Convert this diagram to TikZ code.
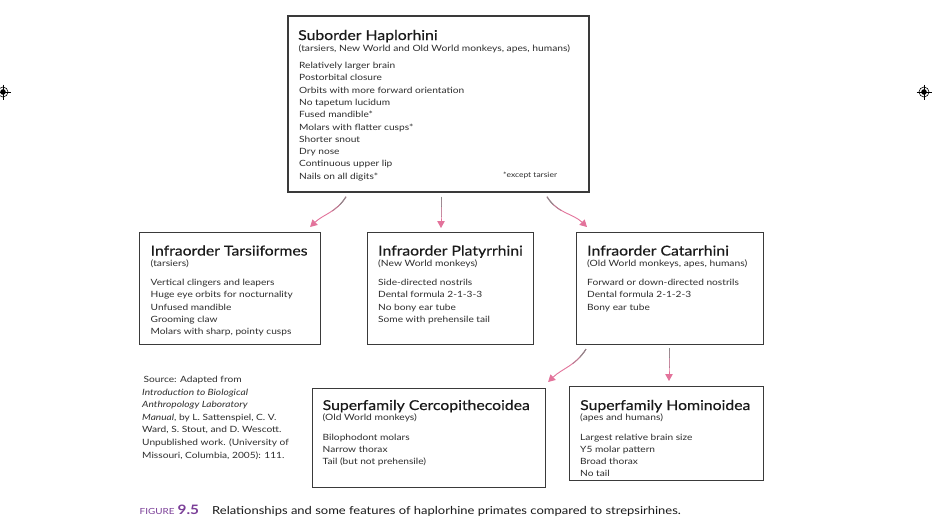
\documentclass[tikz,border=0pt]{standalone}
\usepackage{fontspec}
\setmainfont[FakeStretch=1.18]{Lato}
\newfontfamily\ttlfont[FakeStretch=1.16, FakeBold=0.35]{Lato}
\usetikzlibrary{arrows.meta,calc}
\definecolor{boxline}{HTML}{3A3A3A}
\definecolor{txt}{HTML}{1A1A1A}
\definecolor{bodytxt}{HTML}{2E2E2E}
\definecolor{arrowpink}{HTML}{E3739B}
\definecolor{arrowgray}{HTML}{8A8A8A}
\definecolor{figpurple}{HTML}{7B3F98}
\begin{document}
\begin{tikzpicture}[x=1pt,y=-1pt,
  box/.style={draw=boxline, line width=1.1pt, inner sep=0, anchor=north west},
  ttl/.style={anchor=base west, inner sep=0, text=txt, font=\ttlfont\fontsize{13.6}{16}\selectfont},
  subt/.style={anchor=base west, inner sep=0, text=bodytxt, font=\fontsize{8.7}{9}\selectfont},
  bod/.style={anchor=north west, inner sep=0, text=bodytxt, align=left, font=\fontsize{8.6}{12.3}\selectfont},
  tip/.style={-{Triangle[length=7pt,width=7.5pt,color=arrowpink]}},
  conn/.style={line width=0.9pt},
  regmark/.style={line width=0.6pt, draw=black}
]
\useasboundingbox (0,0) rectangle (932,530);
\fill[white] (0,0) rectangle (932,530);

% registration marks
\foreach \cx in {3,924}{
  \draw[regmark] (\cx,92) circle (5);
  \fill (\cx,92) circle (2.8);
  \draw[regmark] (\cx-7.5,92) -- (\cx+7.5,92);
  \draw[regmark] (\cx,84.5) -- (\cx,99.5);
}

% boxes
\node[box, line width=1.8pt, minimum width=301, minimum height=176] (hap) at (287,15) {};
\node[box, minimum width=181, minimum height=112] (tar) at (139,232) {};
\node[box, minimum width=166, minimum height=112] (pla) at (367,232) {};
\node[box, minimum width=187, minimum height=112] (cat) at (576,232) {};
\node[box, minimum width=233, minimum height=99] (cer) at (312,388) {};
\node[box, minimum width=194, minimum height=94] (hom) at (569,386) {};

% top box text
\node[ttl] (hapT) at (298,40) {Suborder Haplorhini};
\node[subt] (hapS) at (298.5,51.5) {(tarsiers, New World and Old World monkeys, apes, humans)};
\node[bod] (hapB) at (299,62) {Relatively larger brain\\Postorbital closure\\Orbits with more forward orientation\\No tapetum lucidum\\Fused mandible*\\Molars with flatter cusps*\\Shorter snout\\Dry nose\\Continuous upper lip\\Nails on all digits*};
\node[anchor=base west, inner sep=0, text=bodytxt, font=\fontsize{7.2}{8}\selectfont] (hapN) at (503,177) {*except tarsier};

% Tarsiiformes
\node[ttl] (tarT) at (150.5,255.5) {Infraorder Tarsiiformes};
\node[subt] (tarS) at (150.5,266) {(tarsiers)};
\node[bod] (tarB) at (150.5,279) {Vertical clingers and leapers\\Huge eye orbits for nocturnality\\Unfused mandible\\Grooming claw\\Molars with sharp, pointy cusps};

% Platyrrhini
\node[ttl] (plaT) at (378,255.5) {Infraorder Platyrrhini};
\node[subt] (plaS) at (378,266) {(New World monkeys)};
\node[bod] (plaB) at (378,279) {Side-directed nostrils\\Dental formula 2-1-3-3\\No bony ear tube\\Some with prehensile tail};

% Catarrhini
\node[ttl] (catT) at (587,255.5) {Infraorder Catarrhini};
\node[subt] (catS) at (587,266) {(Old World monkeys, apes, humans)};
\node[bod] (catB) at (587,279) {Forward or down-directed nostrils\\Dental formula 2-1-2-3\\Bony ear tube};

% Cercopithecoidea
\node[ttl] (cerT) at (322.5,410) {Superfamily Cercopithecoidea};
\node[subt] (cerS) at (322.5,420.5) {(Old World monkeys)};
\node[bod] (cerB) at (322.5,433.5) {Bilophodont molars\\Narrow thorax\\Tail (but not prehensile)};

% Hominoidea
\node[ttl] (homT) at (580,410) {Superfamily Hominoidea};
\node[subt] (homS) at (580,420.5) {(apes and humans)};
\node[bod] (homB) at (580,433.5) {Largest relative brain size\\Y5 molar pattern\\Broad thorax\\No tail};

% source
\node[anchor=north west, inner sep=0, text=bodytxt, align=left, font=\fontsize{8.6}{12.6}\selectfont] (src) at (142,376) {\,Source: Adapted from\\\textit{Introduction to Biological}\\\textit{Anthropology Laboratory}\\\textit{Manual}, by L. Sattenspiel, C. V.\\Ward, S. Stout, and D. Wescott.\\Unpublished work. (University of\\Missouri, Columbia, 2005): 111.};

% caption
\node[anchor=base west, inner sep=0, text=figpurple, font=\fontsize{8.4}{9}\selectfont] (capF) at (139.5,514) {FIGURE};
\node[anchor=base west, inner sep=0, text=figpurple, font=\fontsize{13}{16}\selectfont\bfseries] (capN) at (177.5,514) {9.5};
\node[anchor=base west, inner sep=0, text=txt, font=\fontsize{11}{12}\selectfont] (capT) at (212,514) {Relationships and some features of haplorhine primates compared to strepsirhines.};

% connector endpoints
\coordinate (a1s) at ($(hap.south west)+(59,4)$);
\coordinate (a1e) at ($(tar.north east)+(-11,-5)$);
\coordinate (a2s) at ($(hap.south west)+(154,4)$);
\coordinate (a2e) at ($(pla.north west)+(74,-4)$);
\coordinate (a3s) at ($(hap.south west)+(260,4)$);
\coordinate (a3e) at ($(cat.north west)+(11,-5)$);
\coordinate (a4s) at ($(cat.south west)+(10,4)$);
\coordinate (a4e) at ($(cer.north east)+(2,-6)$);
\coordinate (a5s) at ($(cat.south west)+(93,3)$);
\coordinate (a5e) at ($(hom.north west)+(100,-5)$);

% connectors: gray fading to pink (overlays follow the same curve)
\foreach \s/\e/\o/\i in {a1s/a1e/-122/44, a2s/a2e/-90/90, a3s/a3e/-58/136, a4s/a4e/-122/44, a5s/a5e/-90/90}{
  \draw[conn, tip, draw=arrowpink] (\s) to[out=\o, in=\i] (\e);
  \draw[conn, draw=arrowgray!50!arrowpink, dash pattern=on 20pt off 2000pt] (\s) to[out=\o, in=\i] (\e);
  \draw[conn, draw=arrowgray, dash pattern=on 10pt off 2000pt] (\s) to[out=\o, in=\i] (\e);
}
\end{tikzpicture}
\end{document}
